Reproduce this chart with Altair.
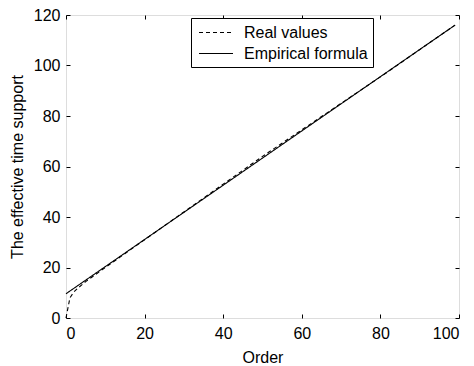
import altair as alt
import pandas as pd

# Data
real_x = [0, 1, 2, 3, 5, 10, 20, 30, 40, 50, 60, 70, 80, 90, 99]
real_y = [0, 8.0, 10.3, 11.8, 14.4, 20.0, 31.0, 42.0, 53.0, 64.0, 74.5, 85.0, 95.5, 106.3, 116.0]
emp_x = [0, 99]
emp_y = [9.6, 116.0]
series = ["Real values", "Empirical formula"]
x_ticks = [0, 20, 40, 60, 80, 100]
y_ticks = [0, 20, 40, 60, 80, 100, 120]

rows = [{"x": a, "y": b, "series": series[0]} for a, b in zip(real_x, real_y)]
rows += [{"x": a, "y": b, "series": series[1]} for a, b in zip(emp_x, emp_y)]
df = pd.DataFrame(rows)

W, H = 393, 303
FONT = "Liberation Sans"
xs = alt.Scale(domain=[0, 100], nice=False, zero=False)
ys = alt.Scale(domain=[0, 120], nice=False, zero=False)

main = alt.Chart(df).mark_line(color="black", strokeWidth=1.1).encode(
    x=alt.X("x:Q", scale=xs, axis=alt.Axis(
        title="Order", values=x_ticks, tickSize=0, domain=False, grid=False,
        labelPadding=7, titlePadding=8, labelFontSize=16, titleFontSize=16,
        titleFontWeight="normal", labelFont=FONT, titleFont=FONT,
        labelColor="black", titleColor="black")),
    y=alt.Y("y:Q", scale=ys, axis=alt.Axis(
        title="The effective time support", values=y_ticks, tickSize=0, domain=False,
        grid=False, labelPadding=6, titlePadding=8, labelFontSize=16, titleFontSize=16,
        titleFontWeight="normal", labelFont=FONT, titleFont=FONT,
        labelColor="black", titleColor="black")),
    strokeDash=alt.StrokeDash("series:N", scale=alt.Scale(domain=series, range=[[4, 3], [1, 0]]),
        legend=alt.Legend(
            title=None, orient="none", legendX=125, legendY=3,
            labelFont=FONT, labelFontSize=16, labelColor="black",
            symbolType="M-3,0H1", symbolSize=289, symbolStrokeColor="black",
            symbolStrokeWidth=1.1, symbolOffset=19, labelOffset=10, padding=5,
            strokeColor="black", fillColor="white", rowPadding=3)),
    order=alt.Order("x:Q"),
)

def tick_layer(xorient, yorient):
    return alt.Chart(df).mark_point(opacity=0).encode(
        x=alt.X("x:Q", scale=xs, axis=alt.Axis(
            orient=xorient, offset=-H, values=x_ticks, labels=False, title=None,
            domain=False, grid=False, tickSize=4, tickColor="black")),
        y=alt.Y("y:Q", scale=ys, axis=alt.Axis(
            orient=yorient, offset=-W, values=y_ticks, labels=False, title=None,
            domain=False, grid=False, tickSize=4, tickColor="black")),
    )

chart = alt.layer(main, tick_layer("top", "right"), tick_layer("bottom", "left")).resolve_axis(
    x="independent", y="independent"
).properties(
    width=W, height=H,
    autosize=alt.AutoSizeParams(type="none"),
    padding={"left": 58, "top": 7, "right": 7, "bottom": 50},
).configure_view(stroke="black", strokeWidth=1).configure(background="white")

chart.save("out.html", embed_options={"renderer": "svg", "actions": False})
